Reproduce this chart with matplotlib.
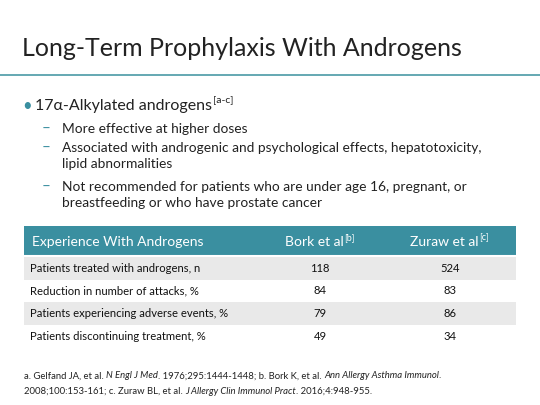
import matplotlib
matplotlib.use("Agg")
import matplotlib.pyplot as plt
from matplotlib.patches import Rectangle

plt.rcParams['font.family'] = ['Lato', 'DejaVu Sans']

title = "Long-Term Prophylaxis With Androgens"
bullet = "17α-Alkylated androgens"
subbullets = [["More effective at higher doses"],
              ["Associated with androgenic and psychological effects, hepatotoxicity,", "lipid abnormalities"],
              ["Not recommended for patients who are under age 16, pregnant, or", "breastfeeding or who have prostate cancer"]]
header = ["Experience With Androgens", "Bork et al", "Zuraw et al"]
header_sup = ["", "[b]", "[c]"]
rows = ["Patients treated with androgens, n", "Reduction in number of attacks, %",
        "Patients experiencing adverse events, %", "Patients discontinuing treatment, %"]
bork = [118, 84, 79, 49]
zuraw = [524, 83, 86, 34]
foot1 = [("a. Gelfand JA, et al. ", "normal"), ("N Engl J Med", "italic"), (". 1976;295:1444-1448; b. Bork K, et al. ", "normal"),
         ("Ann Allergy Asthma Immunol", "italic"), (".", "normal")]
foot2 = [("2008;100:153-161; c. Zuraw BL, et al. ", "normal"), ("J Allergy Clin Immunol Pract", "italic"), (". 2016;4:948-955.", "normal")]

teal = "#3a8fa0"
fig = plt.figure(figsize=(5.4, 4.05), dpi=100)
ax = fig.add_axes([0, 0, 1, 1])
ax.set_xlim(0, 540); ax.set_ylim(405, 0); ax.axis('off')
inv = ax.transData.inverted()

def right_end(t):
    fig.canvas.draw()
    b = t.get_window_extent(fig.canvas.get_renderer())
    return inv.transform((b.x1, 0))[0]

ax.text(22, 48, title, fontsize=18, va='center', color='#222222')
ax.plot([0, 540], [75, 75], color='#4a9aa5', lw=1.2)

ax.text(22, 106, "•", fontsize=12, va='center', color=teal)
t = ax.text(35, 106, bullet, fontsize=11.5, va='center', color='#222222')
ax.text(right_end(t) + 0.5, 101, "[a-c]", fontsize=7.5, va='center', color='#222222')

ys = [[129], [148, 164], [187, 203]]
for lines, yy in zip(subbullets, ys):
    ax.text(42, yy[0], "–", fontsize=11, va='center', color=teal)
    for ln, y in zip(lines, yy):
        ax.text(62, y, ln, fontsize=9.9, va='center', color='#222222')

# table
ax.add_patch(Rectangle((24, 226), 492, 30, color=teal, lw=0))
rtops = [256, 280, 302, 325]
rh = [24, 22, 23, 24]
cols = [320, 450]
for i in range(4):
    if i % 2 == 0:
        ax.add_patch(Rectangle((24, rtops[i]), 492, rh[i], color='#e9e9e9', lw=0))
    yc = rtops[i] + rh[i] / 2
    ax.text(30, yc, rows[i], fontsize=8.1, va='center', color='#111111')
    ax.text(cols[0], yc, str(bork[i]), fontsize=8.1, va='center', ha='center', color='#111111')
    ax.text(cols[1], yc, str(zuraw[i]), fontsize=8.1, va='center', ha='center', color='#111111')
ax.plot([24, 516], [256, 256], color='white', lw=1.5)

ax.text(32, 242, header[0], fontsize=10, va='center', color='white')
for c, h, s in zip(cols, header[1:], header_sup[1:]):
    th = ax.text(c - 6, 242, h, fontsize=10, va='center', ha='center', color='white')
    ax.text(right_end(th) + 0.5, 238, s, fontsize=6.5, va='center', color='white')

def segs(x, y, parts):
    for txt, st in parts:
        tt = ax.text(x, y, txt, fontsize=6.8, style=st, va='center', color='#222222')
        x = right_end(tt)

segs(24, 376, foot1)
segs(24, 391, foot2)

fig.savefig("out.png", dpi=100)
